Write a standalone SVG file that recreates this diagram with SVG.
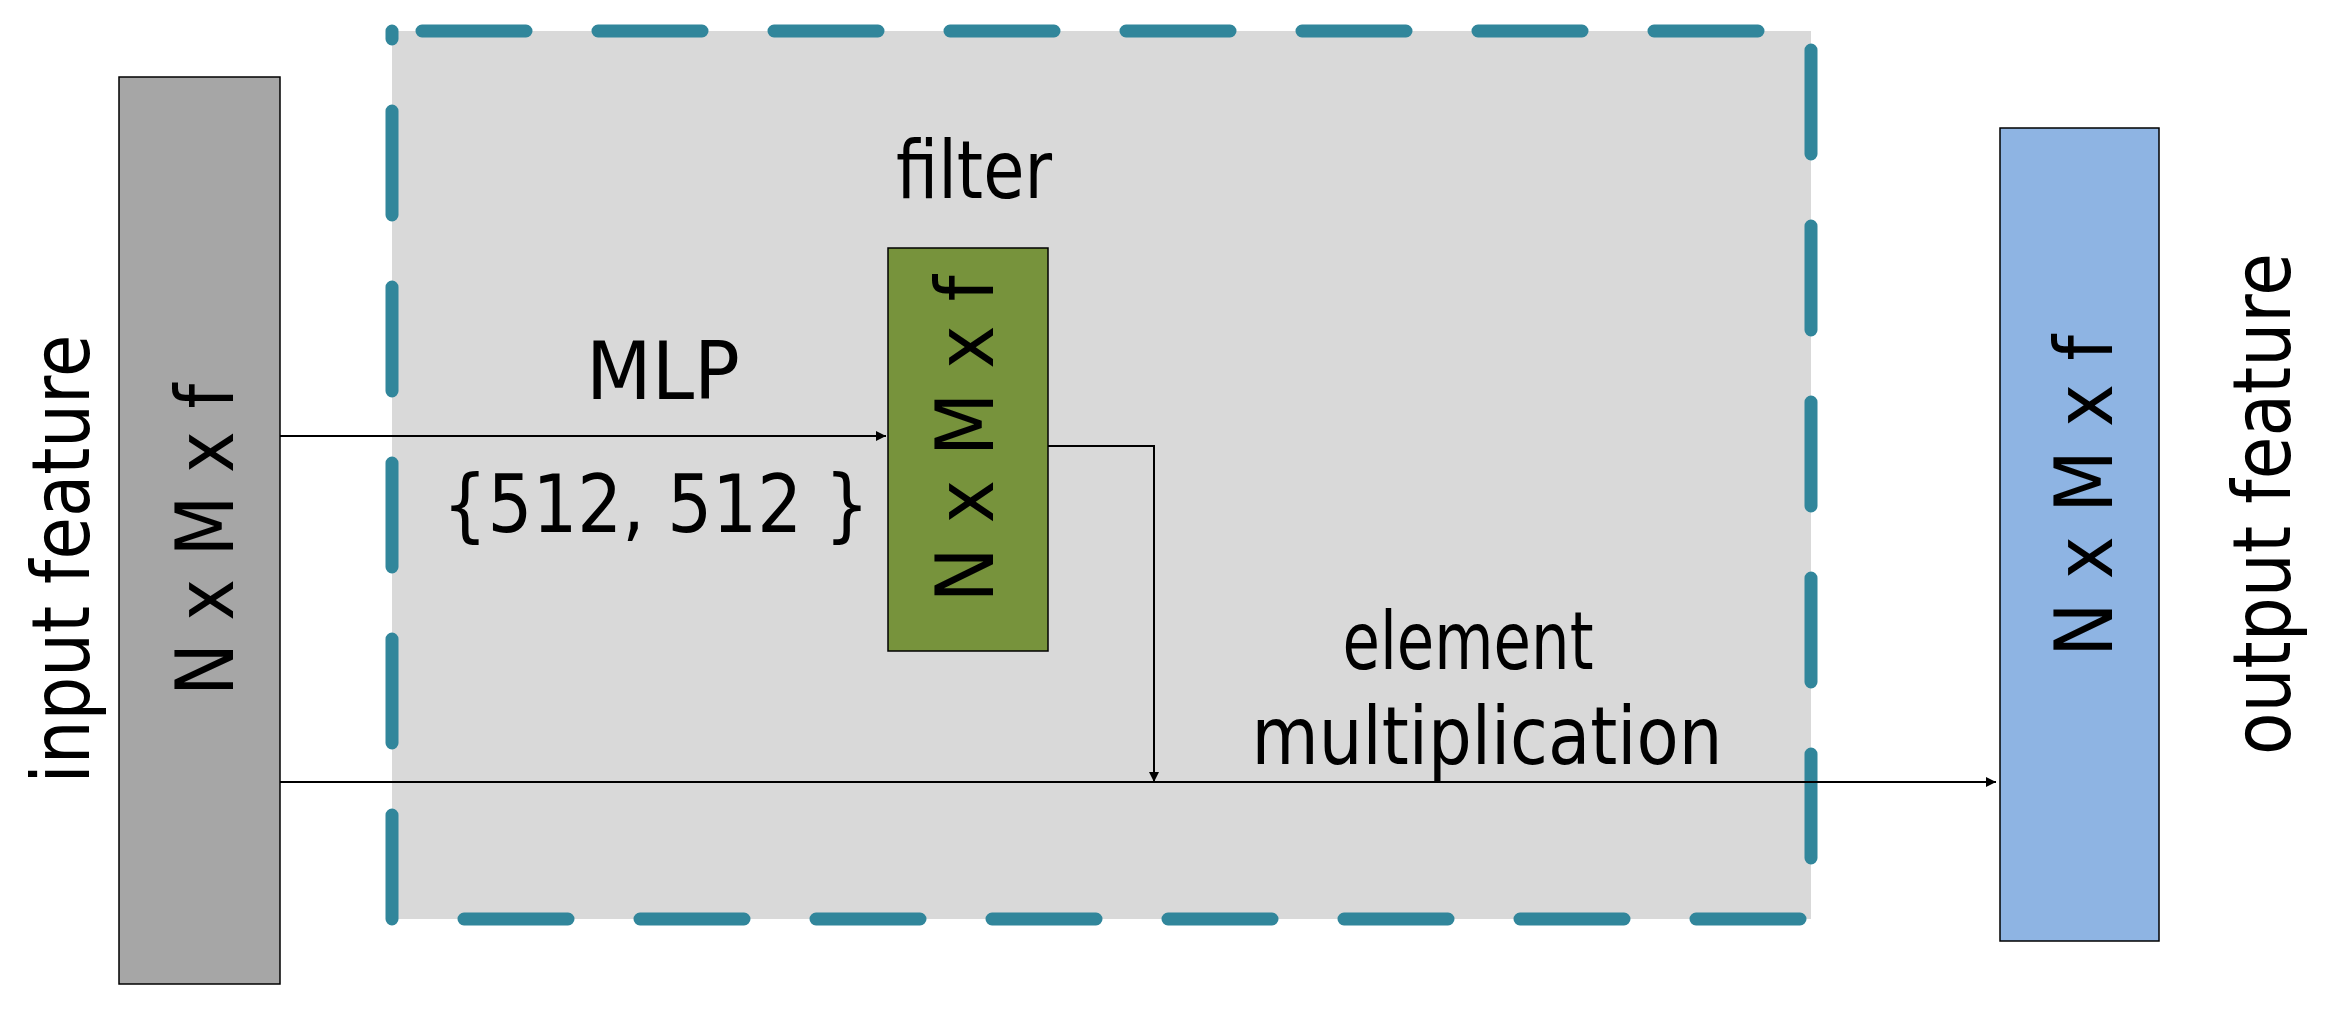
<svg xmlns="http://www.w3.org/2000/svg" width="2332" height="1016" viewBox="0 0 2332 1016">
<style>
text{font-family:"DejaVu Sans","Liberation Sans",sans-serif;font-size:80px;fill:#000}
.box{stroke:#000;stroke-width:1.5}
.ln{stroke:#000;stroke-width:2;fill:none}
</style>
<defs>
<marker id="ah" markerWidth="10" markerHeight="10" refX="10" refY="5" orient="auto" markerUnits="userSpaceOnUse" viewBox="0 0 10 10">
<path d="M0,0 L10,5 L0,10 z" fill="#000"/>
</marker>
</defs>
<rect width="2332" height="1016" fill="#fff"/>
<g id="filter-region">
<rect x="392" y="31" width="1419" height="888" fill="#D9D9D9" stroke="#31869B" stroke-width="13" stroke-linecap="round" stroke-dasharray="104 72" stroke-dashoffset="-30"/>
</g>
<g id="input">
<rect class="box" x="119" y="77" width="161" height="907" fill="#A6A6A6"/>
<text transform="translate(233,540) rotate(-90)" text-anchor="middle" textLength="312" lengthAdjust="spacingAndGlyphs" font-size="86">N x M x f</text>
<text transform="translate(89,559) rotate(-90)" text-anchor="middle" textLength="449" lengthAdjust="spacingAndGlyphs" font-size="88">input feature</text>
</g>
<g id="filter">
<rect class="box" x="888" y="248" width="160" height="403" fill="#77933C"/>
<text transform="translate(993,439) rotate(-90)" text-anchor="middle" textLength="327" lengthAdjust="spacingAndGlyphs" font-size="86">N x M x f</text>
<text x="974" y="198" text-anchor="middle" textLength="156" lengthAdjust="spacingAndGlyphs">filter</text>
</g>
<g id="output">
<rect class="box" x="2000" y="128" width="159" height="813" fill="#8EB4E3"/>
<text transform="translate(2112,496) rotate(-90)" text-anchor="middle" textLength="322" lengthAdjust="spacingAndGlyphs" font-size="86">N x M x f</text>
<text transform="translate(2290,504) rotate(-90)" text-anchor="middle" textLength="502" lengthAdjust="spacingAndGlyphs" font-size="88">output feature</text>
</g>
<g id="connectors">
<line class="ln" x1="280" y1="436" x2="886" y2="436" marker-end="url(#ah)"/>
<polyline class="ln" points="1048,446 1154,446 1154,782" marker-end="url(#ah)"/>
<line class="ln" x1="280" y1="782" x2="1996" y2="782" marker-end="url(#ah)"/>
<style>#connectors marker{}</style>
</g>
<g id="labels">
<text x="663" y="399" text-anchor="middle" textLength="154" lengthAdjust="spacingAndGlyphs">MLP</text>
<text x="656" y="532" text-anchor="middle" textLength="427" lengthAdjust="spacingAndGlyphs">{512, 512 }</text>
<text x="1468" y="669" text-anchor="middle" textLength="251" lengthAdjust="spacingAndGlyphs">element</text>
<text x="1487" y="764" text-anchor="middle" textLength="471" lengthAdjust="spacingAndGlyphs">multiplication</text>
</g>
</svg>
